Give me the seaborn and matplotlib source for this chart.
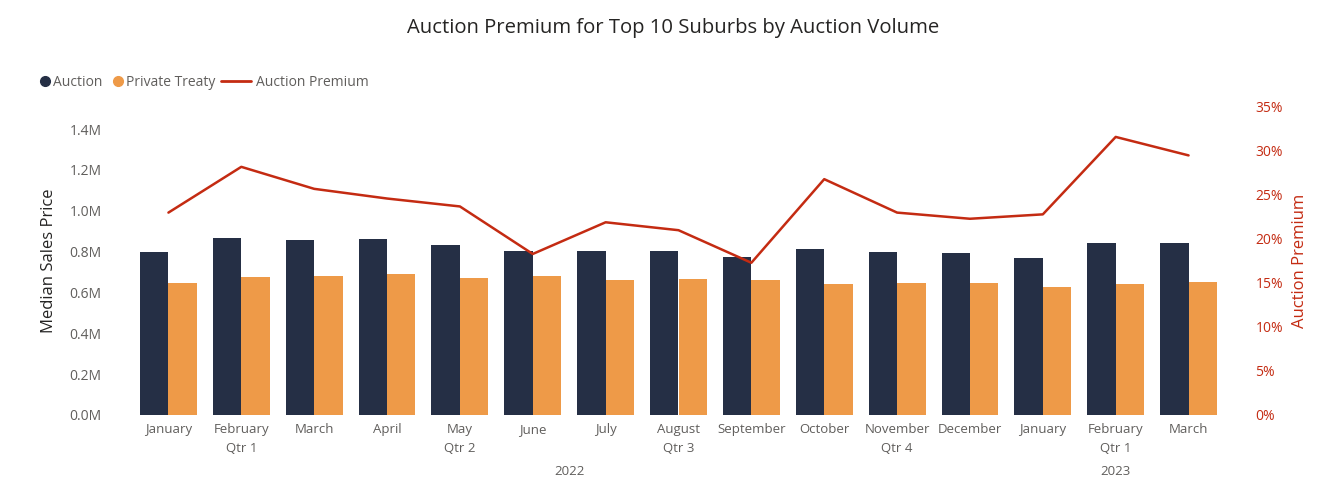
import numpy as np
import pandas as pd
import seaborn as sns
import matplotlib.pyplot as plt
from matplotlib.lines import Line2D
from matplotlib.ticker import FuncFormatter, PercentFormatter
import matplotlib.transforms as mtransforms

# Data
months = ['January', 'February', 'March', 'April', 'May', 'June', 'July', 'August',
          'September', 'October', 'November', 'December', 'January', 'February', 'March']
quarters = ['Qtr 1'] * 3 + ['Qtr 2'] * 3 + ['Qtr 3'] * 3 + ['Qtr 4'] * 3 + ['Qtr 1'] * 3
years = ['2022'] * 12 + ['2023'] * 3
auction = [800000, 865000, 855000, 860000, 830000, 805000, 805000, 805000,
           775000, 811000, 799000, 793000, 770000, 842000, 843000]
private_treaty = [648000, 674000, 680000, 689000, 669000, 680000, 659000, 664000,
                  659000, 640000, 648000, 648000, 627000, 640000, 650000]
premium = [0.230, 0.282, 0.257, 0.246, 0.237, 0.183, 0.219, 0.210,
           0.173, 0.268, 0.230, 0.223, 0.228, 0.316, 0.295]

navy = '#252f45'
orange = '#ee9a48'
red = '#c42b12'
grey = '#605e5c'

sns.set_theme(style='white')
plt.rcParams['font.family'] = ['Open Sans', 'DejaVu Sans']

periods = [f'{y}-{i}' for i, y in enumerate(years)]
df = pd.DataFrame({'period': periods * 2,
                   'price': auction + private_treaty,
                   'type': ['Auction'] * len(months) + ['Private Treaty'] * len(months)})

fig = plt.figure(figsize=(13.36, 5), dpi=100)
ax = fig.add_axes([132 / 1336, 85 / 500, 1093 / 1336, 308 / 500])

sns.barplot(data=df, x='period', y='price', hue='type', palette=[navy, orange],
            width=0.78, saturation=1, linewidth=0, ax=ax, legend=False)
ax.set_ylim(0, 1.508e6)
ax.set_yticks(np.arange(0, 1.41e6, 0.2e6))
ax.yaxis.set_major_formatter(FuncFormatter(lambda v, p: f'{v / 1e6:.1f}M'))
ax.set_xticks(range(len(months)))
ax.set_xticklabels(months)
ax.set_xlabel('')
ax.set_ylabel('Median Sales Price', fontsize=12, color='#252423', labelpad=9)
ax.tick_params(axis='y', colors=grey, labelsize=10, length=0, pad=22)
ax.tick_params(axis='x', colors=grey, labelsize=9.5, length=0, pad=6)
ax.set_xlim(-0.5, len(months) - 0.5)
sns.despine(ax=ax, left=True, bottom=True)

ax2 = ax.twinx()
sns.lineplot(x=np.arange(len(months)), y=premium, color=red, linewidth=1.8, ax=ax2)
ax2.set_ylim(0, 0.35)
ax2.set_yticks(np.arange(0, 0.351, 0.05))
ax2.yaxis.set_major_formatter(PercentFormatter(1.0, decimals=0))
ax2.tick_params(axis='y', colors=red, labelsize=10, length=0, pad=22)
ax2.set_ylabel('Auction Premium', fontsize=12, color=red, labelpad=6)
sns.despine(ax=ax2, left=True, bottom=True, right=True)

# Quarter and year labels under the month labels
trans = mtransforms.blended_transform_factory(ax.transData, ax.transAxes)
q_keys = [f'{y}{q}' for y, q in zip(years, quarters)]
for key in dict.fromkeys(q_keys):
    idx = [i for i, k in enumerate(q_keys) if k == key]
    ax.text(np.mean(idx), -0.11, quarters[idx[0]], transform=trans,
            ha='center', va='center', fontsize=9.5, color=grey)
for yr in dict.fromkeys(years):
    idx = [i for i, y in enumerate(years) if y == yr]
    ax.text(np.mean(idx), -0.183, yr, transform=trans,
            ha='center', va='center', fontsize=9.5, color=grey)

# Legend: circles for the bars, a longer line for the premium
dot_handles = [Line2D([], [], marker='o', linestyle='', color=navy, markersize=7),
               Line2D([], [], marker='o', linestyle='', color=orange, markersize=7)]
fig.legend(dot_handles, ['Auction', 'Private Treaty'],
           loc='center left', bbox_to_anchor=(31 / 1336, 1 - 82 / 500), ncol=2,
           frameon=False, fontsize=10, handletextpad=0.0, columnspacing=0.5,
           handlelength=1.2, labelcolor=grey, borderaxespad=0)
fig.legend([Line2D([], [], color=red, linewidth=2)], ['Auction Premium'],
           loc='center left', bbox_to_anchor=(215 / 1336, 1 - 82 / 500),
           frameon=False, fontsize=10, handletextpad=0.35,
           handlelength=2.2, labelcolor=grey, borderaxespad=0)

fig.suptitle('Auction Premium for Top 10 Suburbs by Auction Volume',
             x=0.5 * (407 + 940) / 1336, y=1 - 28 / 500, va='center',
             fontsize=14.6, color='#252423')

fig.savefig('out.png', dpi=100)
